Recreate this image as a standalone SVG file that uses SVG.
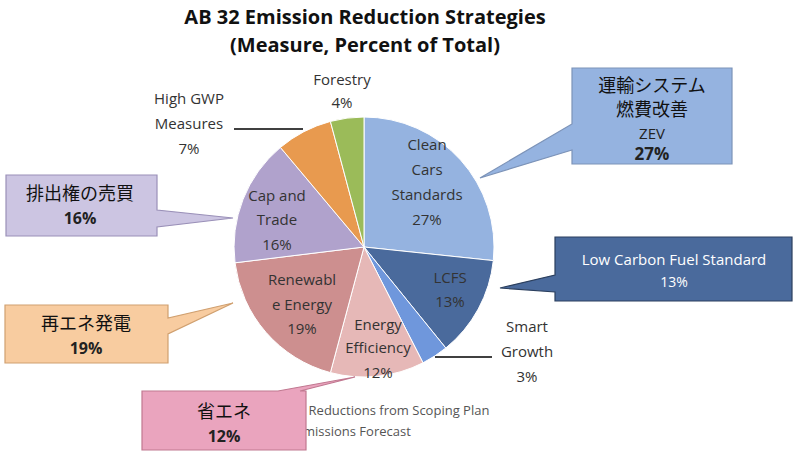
<svg xmlns="http://www.w3.org/2000/svg" width="800" height="456" viewBox="0 0 800 456">
<style>
text{font-family:"Open Sans","Noto Sans","Liberation Sans",sans-serif;fill:#222}
.t{font-weight:bold;font-size:20px;text-anchor:middle;fill:#111}
.l{font-size:15px;text-anchor:middle;fill:#333}
.s{font-size:13px;fill:#555}
.j{font-family:"Noto Sans CJK JP","Noto Sans",sans-serif;font-size:18px;text-anchor:middle;fill:#111}
.w path{stroke:#fff;stroke-width:1}
.c{stroke-width:1.2}
</style>
<rect width="800" height="456" fill="#fff"/>
<text class="t" x="365" y="24">AB 32 Emission Reduction Strategies</text>
<text class="t" x="365" y="52">(Measure, Percent of Total)</text>
<text class="s" x="299" y="415">s Reductions from Scoping Plan</text>
<text class="s" x="303" y="436">missions Forecast</text>
<g class="w" id="pie">
<path d="M364,247 L364,117 A130,130 0 0 1 493.3,260.6 Z" fill="#95b3e0"/>
<path d="M364,247 L493.3,260.6 A130,130 0 0 1 445.8,348 Z" fill="#4a6a9c"/>
<path d="M364,247 L445.8,348 A130,130 0 0 1 423,362.8 Z" fill="#6f97dc"/>
<path d="M364,247 L423,362.8 A130,130 0 0 1 330.4,372.6 Z" fill="#e6b8b7"/>
<path d="M364,247 L330.4,372.6 A130,130 0 0 1 235,262.8 Z" fill="#cd8f8f"/>
<path d="M364,247 L235,262.8 A130,130 0 0 1 280.4,147.4 Z" fill="#b0a2cc"/>
<path d="M364,247 L280.4,147.4 A130,130 0 0 1 330.4,121.4 Z" fill="#e89a4f"/>
<path d="M364,247 L330.4,121.4 A130,130 0 0 1 364,117 Z" fill="#9bbb59"/>
</g>
<g id="labels">
<text class="l" x="427" y="150">Clean</text><text class="l" x="427" y="175">Cars</text><text class="l" x="427" y="200">Standards</text><text class="l" x="427" y="225">27%</text>
<text class="l" x="450" y="283">LCFS</text><text class="l" x="450" y="307">13%</text>
<text class="l" x="527" y="332">Smart</text><text class="l" x="527" y="357">Growth</text><text class="l" x="527" y="382">3%</text>
<text class="l" x="378" y="330">Energy</text><text class="l" x="378" y="353">Efficiency</text><text class="l" x="378" y="378">12%</text>
<text class="l" x="302" y="285">Renewabl</text><text class="l" x="302" y="310">e Energy</text><text class="l" x="302" y="334">19%</text>
<text class="l" x="277" y="201">Cap and</text><text class="l" x="277" y="225">Trade</text><text class="l" x="277" y="250">16%</text>
<text class="l" x="189" y="104">High GWP</text><text class="l" x="189" y="129">Measures</text><text class="l" x="189" y="154">7%</text>
<text class="l" x="342" y="85">Forestry</text><text class="l" x="342" y="108">4%</text>
</g>
<g id="connectors" stroke="#000" stroke-width="1.5">
<line x1="234" y1="129" x2="303" y2="129"/>
<line x1="435" y1="357" x2="492" y2="357"/>
</g>
<g id="callout-transport">
<path class="c" d="M572,68 H732 V164 H572 V150 L480,178 L572,124 Z" fill="#95b3e0" stroke="#7c93b8"/>
<text class="j" x="652" y="92">運輸システム</text>
<text class="j" x="652" y="116">燃費改善</text>
<text x="652" y="139" font-size="15" text-anchor="middle" font-family="Liberation Sans,sans-serif" fill="#111">ZEV</text>
<text x="652" y="160" font-size="17" font-weight="bold" text-anchor="middle" font-family="Liberation Sans,sans-serif" fill="#111">27%</text>
</g>
<g id="callout-lcfs">
<path class="c" d="M555,237 H792 V301 H555 V292 L500,288 L555,275 Z" fill="#4a6a9c" stroke="#2b3f5e"/>
<text x="674" y="265" font-size="15" text-anchor="middle" style="fill:#fff" font-family="Liberation Sans,sans-serif">Low Carbon Fuel Standard</text>
<text x="674" y="287" font-size="14" text-anchor="middle" style="fill:#fff" font-family="Liberation Sans,sans-serif">13%</text>
</g>
<g id="callout-cap">
<path class="c" d="M6,175 H157 V210 L233,218 L157,227 V236 H6 Z" fill="#ccc5e2" stroke="#9a90b8"/>
<text class="j" x="80" y="200">排出権の売買</text>
<text x="80" y="224" font-size="16" font-weight="bold" text-anchor="middle" font-family="Liberation Sans,sans-serif" fill="#111">16%</text>
</g>
<g id="callout-renew">
<path class="c" d="M5,305 H168 V318 L233,303 L168,334 V363 H5 Z" fill="#f8cca0" stroke="#d0a070"/>
<text class="j" x="86" y="330">再エネ発電</text>
<text x="86" y="354" font-size="16" font-weight="bold" text-anchor="middle" font-family="Liberation Sans,sans-serif" fill="#111">19%</text>
</g>
<g id="callout-ee">
<path class="c" d="M142,391 H278 L355,377 L300,391 H306 V450 H142 Z" fill="#eaa4be" stroke="#c07890"/>
<text class="j" x="224" y="418">省エネ</text>
<text x="224" y="442" font-size="16" font-weight="bold" text-anchor="middle" font-family="Liberation Sans,sans-serif" fill="#111">12%</text>
</g>
</svg>
